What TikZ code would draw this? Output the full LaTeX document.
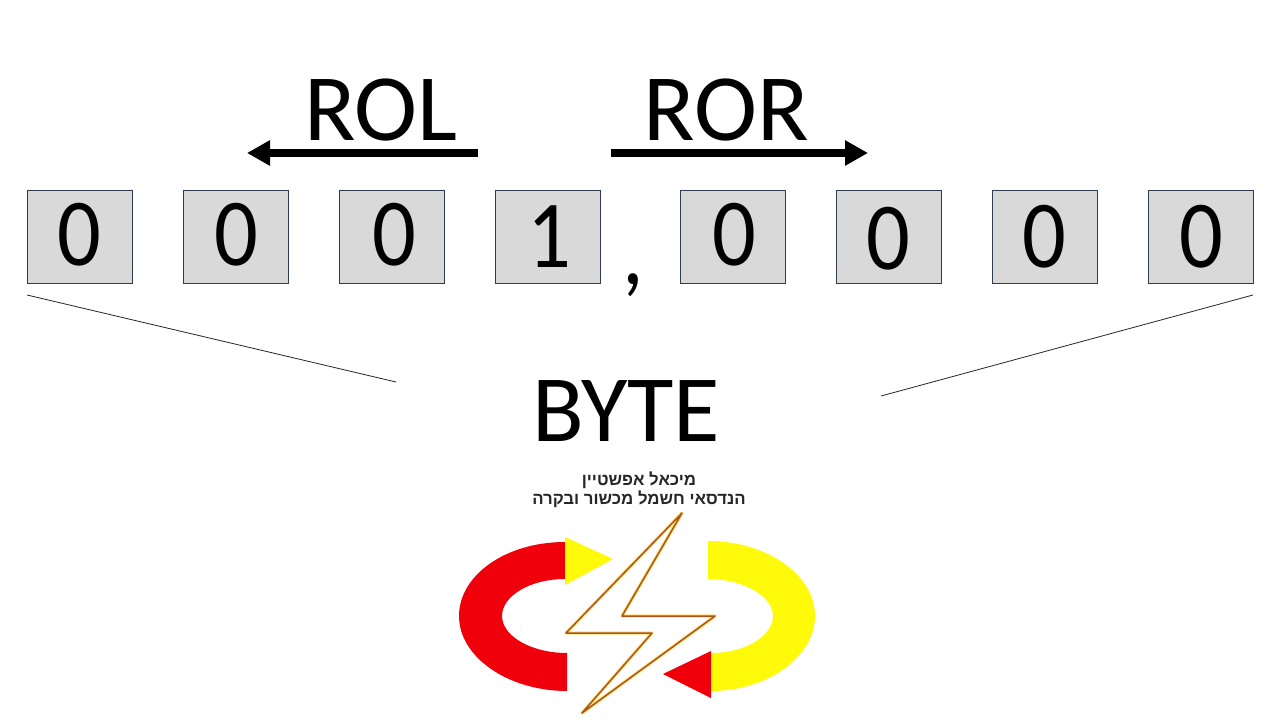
\documentclass[tikz,border=0pt]{standalone}
\usepackage{fontspec}
\setmainfont{Carlito}
\newfontfamily\digitfont[FakeStretch=0.9]{Carlito}
\newfontfamily\hebfont[Script=Hebrew]{Liberation Sans}
\TeXXeTstate=1
\usetikzlibrary{arrows.meta}
\definecolor{boxfill}{RGB}{217,217,217}
\definecolor{boxline}{RGB}{47,60,80}
\definecolor{logored}{RGB}{240,0,10}
\definecolor{logoyellow}{RGB}{255,250,10}
\definecolor{boltline}{RGB}{170,85,30}
\definecolor{boltglow}{RGB}{255,225,120}
\tikzset{
  bitbox/.style={draw=boxline,fill=boxfill,line width=0.8pt,minimum width=105.4pt,minimum height=93.4pt,inner sep=0pt,outer sep=0pt,anchor=north west},
  bitdigit/.style={font=\digitfont\fontsize{96}{96}\selectfont,inner sep=0pt},
  bigword/.style={font=\fontsize{95}{95}\selectfont,inner sep=0pt},
  rollarrow/.style={line width=8pt,-{Triangle[length=23pt,width=24pt]}},
  byteline/.style={draw=black!85,line width=0.8pt},
  logotext/.style={font=\hebfont\bfseries\fontsize{16.8}{19}\selectfont,text=black!85,inner sep=0pt,align=center},
  boltshape/.style={line join=round}
}
\begin{document}
\begin{tikzpicture}[x=1pt,y=-1pt]
  \useasboundingbox[fill=white] (0,0) rectangle (1280,720);
  % bit boxes
  \node[bitbox] (b1) at (27,190) {};
  \node[bitbox] (b2) at (183,190) {};
  \node[bitbox] (b3) at (339,190) {};
  \node[bitbox] (b4) at (495,190) {};
  \node[bitbox] (b5) at (680,190) {};
  \node[bitbox] (b6) at (836,190) {};
  \node[bitbox] (b7) at (992,190) {};
  \node[bitbox] (b8) at (1148,190) {};
  \node[bitdigit] (d1) at (79,235) {0};
  \node[bitdigit] (d2) at (236,235) {0};
  \node[bitdigit] (d3) at (394,235) {0};
  \node[bitdigit] (d4) at (549,237) {1};
  \node[bitdigit] (d5) at (734,235) {0};
  \node[bitdigit] (d6) at (888,239) {0};
  \node[bitdigit] (d7) at (1044,237) {0};
  \node[bitdigit] (d8) at (1201,237) {0};
  \node[bitdigit] (comma) at (633,285) {,};
  % words
  \node[bigword] (rol) at (381,110) {ROL};
  \node[bigword] (ror) at (726,110) {ROR};
  \node[bigword] (byte) at (626,411) {BYTE};
  % arrows
  \coordinate (rolstart) at (478,153);
  \coordinate (rolend) at (247,153);
  \coordinate (rorstart) at (611,153);
  \coordinate (rorend) at (868,153);
  \draw[rollarrow] (rolstart) -- (rolend);
  \draw[rollarrow] (rorstart) -- (rorend);
  % lines to the word
  \coordinate (leftup) at (27,295);
  \coordinate (leftdown) at (396,382);
  \coordinate (rightup) at (1253,295);
  \coordinate (rightdown) at (881,396);
  \draw[byteline] (leftup) -- (leftdown);
  \draw[byteline] (rightup) -- (rightdown);
  % logo
  \node[logotext] (logoname) at (639,489.5) {\beginR מיכאל אפשטיין\endR\\\beginR הנדסאי חשמל מכשור ובקרה\endR};
  \fill[logored] (565,542) .. controls (506,542) and (459,575) .. (459,616)
    .. controls (459,657) and (508,691) .. (567,691) -- (567,653)
    .. controls (531,653) and (502,636) .. (502,616)
    .. controls (502,596) and (530,579) .. (565,579) -- cycle;
  \fill[logoyellow] (708,541) .. controls (767,541) and (815,575) .. (815,616)
    .. controls (815,657) and (767,691) .. (711,691) -- (711,653)
    .. controls (745,653) and (773,636) .. (773,616)
    .. controls (773,596) and (743,579) .. (708,579) -- cycle;
  \fill[logoyellow] (565,537) -- (613,559) -- (565,585) -- cycle;
  \fill[logored] (711,651) -- (663,674) -- (711,698) -- cycle;
  \draw[boltshape,boltglow,line width=3.4pt] (682,513) -- (622,616) -- (715,616) -- (582,713) -- (652,633) -- (566,633) -- cycle;
  \draw[boltshape,boltline,line width=1.5pt] (682,513) -- (622,616) -- (715,616) -- (582,713) -- (652,633) -- (566,633) -- cycle;
\end{tikzpicture}
\end{document}
